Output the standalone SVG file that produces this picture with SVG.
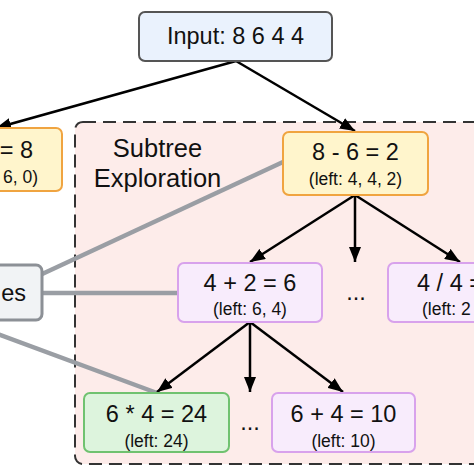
<svg xmlns="http://www.w3.org/2000/svg" width="474" height="474" viewBox="0 0 474 474">
<defs>
<marker id="ah" viewBox="0 0 15 12" refX="15" refY="6" markerWidth="15" markerHeight="12" markerUnits="userSpaceOnUse" orient="auto">
<path d="M0,0 L15,6 L0,12 z" fill="#000"/>
</marker>
<style>
text{font-family:"Liberation Sans",Arial,sans-serif;fill:#111;text-anchor:middle}
.big{font-size:23.5px}
.small{font-size:17.5px}
.arrow{stroke:#000;stroke-width:2.5;fill:none;marker-end:url(#ah)}
.gray{stroke:#9a9ea4;stroke-width:4.5;fill:none}
.orange{fill:#fff5cc;stroke:#f0a440;stroke-width:2}
.purple{fill:#f8ecfc;stroke:#d8a2ec;stroke-width:2}
.green{fill:#ddf4dd;stroke:#70c270;stroke-width:2}
</style>
</defs>
<rect width="474" height="474" fill="#fff"/>
<g id="subtree">
<rect x="75" y="122" width="420" height="342" rx="8" fill="#fdecea" stroke="#333" stroke-width="2" stroke-dasharray="13,7"/>
<text x="157.5" y="157" style="font-size:25.5px">Subtree</text>
<text x="157.5" y="187" style="font-size:25.5px">Exploration</text>
</g>
<g id="connectors">
<line class="gray" x1="40" y1="275" x2="283" y2="162"/>
<line class="gray" x1="42" y1="293" x2="178" y2="293"/>
<line class="gray" x1="-5" y1="333" x2="157" y2="393"/>
<line class="arrow" x1="236" y1="61" x2="-4" y2="128"/>
<line class="arrow" x1="236" y1="61" x2="355" y2="131"/>
<line class="arrow" x1="355" y1="195" x2="250" y2="262"/>
<line class="arrow" x1="355" y1="195" x2="355" y2="262"/>
<line class="arrow" x1="355" y1="195" x2="460" y2="262"/>
<line class="arrow" x1="250" y1="322" x2="157" y2="392"/>
<line class="arrow" x1="250" y1="322" x2="250" y2="392"/>
<line class="arrow" x1="250" y1="322" x2="343" y2="392"/>
</g>
<g id="input">
<rect x="139" y="12" width="193" height="49" rx="6" fill="#eaf2fd" stroke="#555" stroke-width="2"/>
<text class="big" x="235.5" y="44">Input: 8 6 4 4</text>
</g>
<g id="left-node">
<rect x="-20" y="128" width="82" height="63" rx="6" class="orange"/>
<text class="big" x="33" y="158" style="text-anchor:end">= 8</text>
<text class="small" x="38" y="183" style="text-anchor:end">6, 0)</text>
</g>
<g id="gray-node">
<rect x="-20" y="265" width="62" height="55" rx="6" fill="#f1f3f5" stroke="#8c9096" stroke-width="3"/>
<text class="big" x="26" y="301" style="text-anchor:end">es</text>
</g>
<g id="n862">
<rect x="283" y="132" width="145" height="63" rx="6" class="orange"/>
<text class="big" x="355.5" y="160">8 - 6 = 2</text>
<text class="small" x="355.5" y="185">(left: 4, 4, 2)</text>
</g>
<g id="n426">
<rect x="178" y="263" width="144" height="59" rx="6" class="purple"/>
<text class="big" x="250" y="291">4 + 2 = 6</text>
<text class="small" x="250" y="315">(left: 6, 4)</text>
</g>
<g id="dots1"><text class="big" x="356" y="300">...</text></g>
<g id="n441">
<rect x="388" y="263" width="110" height="59" rx="6" class="purple"/>
<text class="big" x="417" y="291" style="text-anchor:start">4 / 4 =</text>
<text class="small" x="422" y="315" style="text-anchor:start">(left: 2</text>
</g>
<g id="n6424">
<rect x="84" y="393" width="145" height="59" rx="6" class="green"/>
<text class="big" x="156.5" y="422">6 * 4 = 24</text>
<text class="small" x="156.5" y="447">(left: 24)</text>
</g>
<g id="dots2"><text class="big" x="250" y="430">...</text></g>
<g id="n6410">
<rect x="272" y="393" width="143" height="59" rx="6" class="purple"/>
<text class="big" x="343.5" y="422">6 + 4 = 10</text>
<text class="small" x="343.5" y="447">(left: 10)</text>
</g>
</svg>
